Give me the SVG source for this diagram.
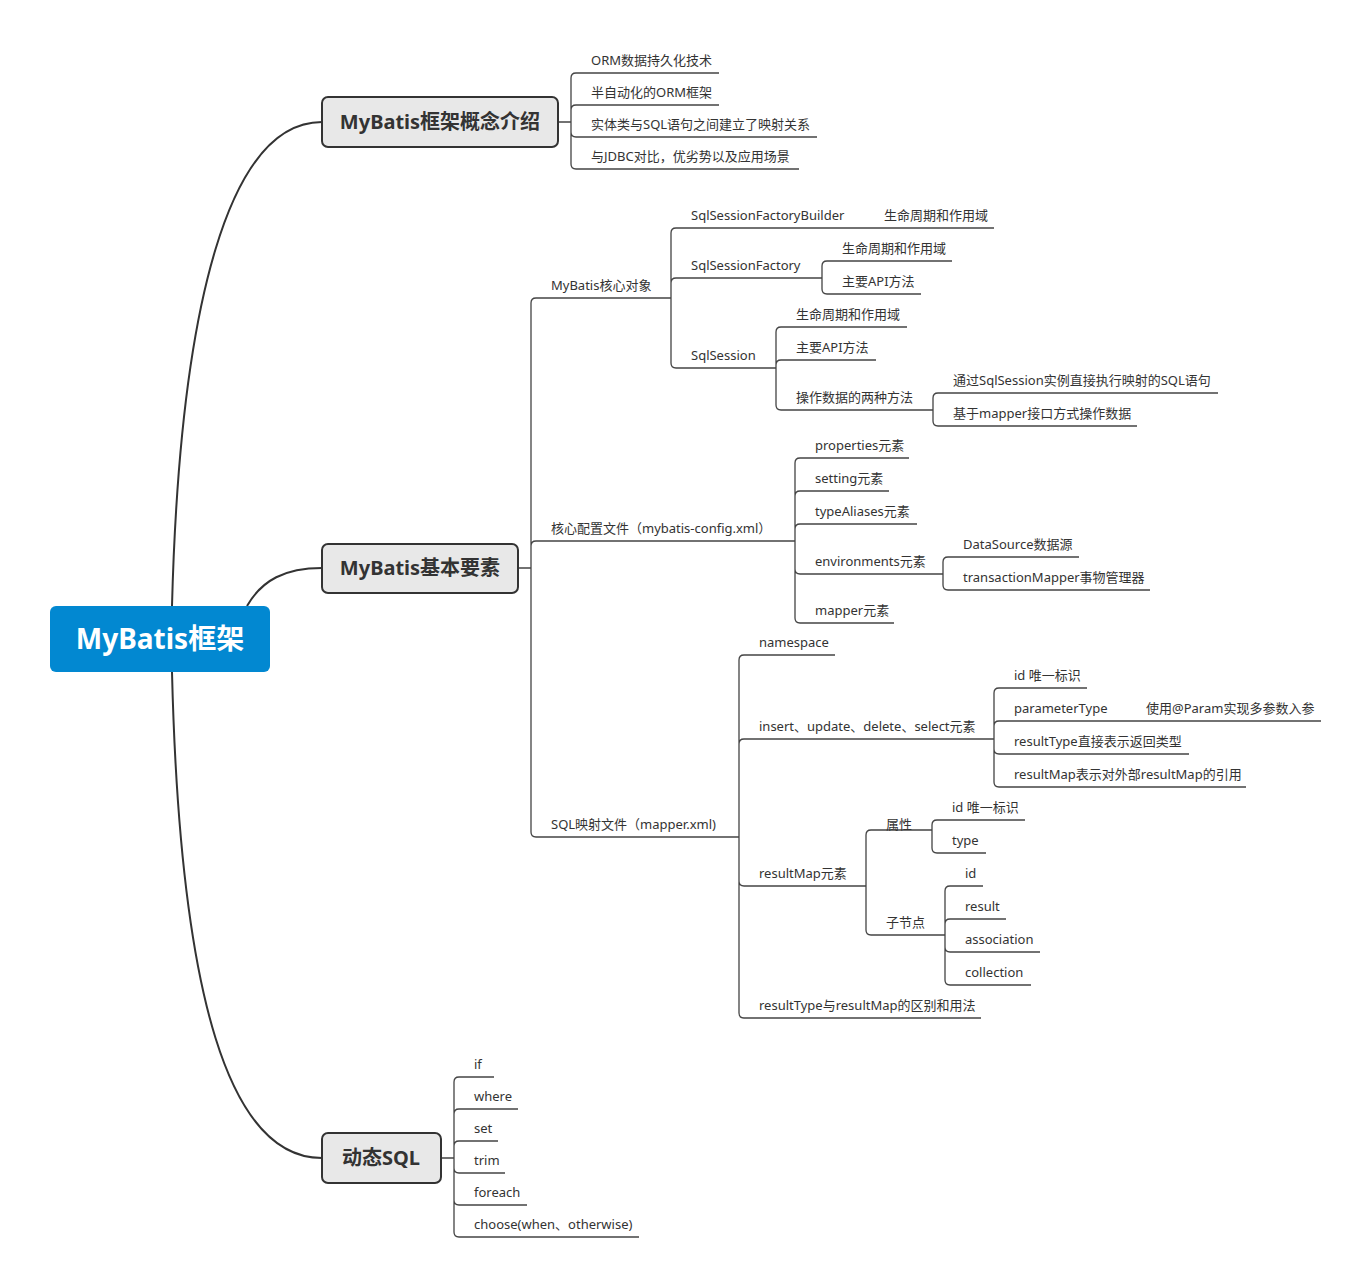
<svg xmlns="http://www.w3.org/2000/svg" width="1371" height="1288" viewBox="0 0 1371 1288">
<style>
.c{fill:none;stroke:#444;stroke-width:1.3}
.m{fill:none;stroke:#333;stroke-width:2}
.t{font-family:"Noto Sans","Noto Sans CJK SC",sans-serif;font-size:13px;fill:#333}
.b{fill:#e8e8e8;stroke:#333;stroke-width:2}
.bt{font-family:"Noto Sans","Noto Sans CJK SC",sans-serif;font-size:20px;font-weight:bold;fill:#333;text-anchor:middle}
</style>
<rect width="1371" height="1288" fill="#fff"/>
<g id="connectors">
<path class="m" d="M172,606 C180,300 230,122 322,122"/>
<path class="m" d="M247,606 C262,580 285,568 322,568"/>
<path class="m" d="M172,672 C180,1000 230,1158 322,1158"/>
<path class="c" d="M558,122 H571 M571,122 V78 Q571,73 576,73 H719 M571,122 V110 Q571,105 576,105 H719 M571,122 V132 Q571,137 576,137 H817 M571,122 V164 Q571,169 576,169 H799"/>
<path class="c" d="M518,568 H531 M531,568 V303 Q531,298 536,298 H670 M531,568 V546 Q531,541 536,541 H795 M531,568 V832 Q531,837 536,837 H738"/>
<path class="c" d="M670,298 H671 M671,298 V233 Q671,228 676,228 H994 M671,298 V283 Q671,278 676,278 H822 M671,298 V363 Q671,368 676,368 H776"/>
<path class="c" d="M822,278 V266 Q822,261 827,261 H952 M822,278 V289 Q822,294 827,294 H921"/>
<path class="c" d="M776,368 V332 Q776,327 781,327 H907 M776,368 V365 Q776,360 781,360 H876 M776,368 V405 Q776,410 781,410 H933"/>
<path class="c" d="M933,410 V398 Q933,393 938,393 H1218 M933,410 V421 Q933,426 938,426 H1137"/>
<path class="c" d="M795,541 V463 Q795,458 800,458 H909 M795,541 V496 Q795,491 800,491 H889 M795,541 V529 Q795,524 800,524 H917 M795,541 V569 Q795,574 800,574 H943 M795,541 V618 Q795,623 800,623 H894"/>
<path class="c" d="M943,574 V562 Q943,557 948,557 H1079 M943,574 V585 Q943,590 948,590 H1150"/>
<path class="c" d="M738,837 H739 M739,837 V660 Q739,655 744,655 H835 M739,837 V744 Q739,739 744,739 H993 M739,837 V881 Q739,886 744,886 H866 M739,837 V1013 Q739,1018 744,1018 H981"/>
<path class="c" d="M993,739 H994 M994,739 V693 Q994,688 999,688 H1087 M994,739 V726 Q994,721 999,721 H1321 M994,739 V749 Q994,754 999,754 H1189 M994,739 V782 Q994,787 999,787 H1246"/>
<path class="c" d="M866,886 V835 Q866,830 871,830 H932 M866,886 V930 Q866,935 871,935 H945"/>
<path class="c" d="M932,830 V825 Q932,820 937,820 H1025 M932,830 V848 Q932,853 937,853 H986"/>
<path class="c" d="M945,935 V891 Q945,886 950,886 H983 M945,935 V924 Q945,919 950,919 H1006 M945,935 V947 Q945,952 950,952 H1040 M945,935 V980 Q945,985 950,985 H1031"/>
<path class="c" d="M441,1158 H454 M454,1158 V1082 Q454,1077 459,1077 H494 M454,1158 V1114 Q454,1109 459,1109 H518 M454,1158 V1146 Q454,1141 459,1141 H498 M454,1158 V1168 Q454,1173 459,1173 H505 M454,1158 V1200 Q454,1205 459,1205 H527 M454,1158 V1232 Q454,1237 459,1237 H639"/>
</g>
<g id="root"><rect x="50" y="606" width="220" height="66" rx="6" fill="#0288d1"/><text x="160" y="649" font-family="Noto Sans,Noto Sans CJK SC,sans-serif" font-size="28" font-weight="bold" fill="#fff" text-anchor="middle">MyBatis框架</text></g>
<g id="concept"><rect class="b" x="322" y="97" width="236" height="50" rx="6"/><text class="bt" x="440" y="129">MyBatis框架概念介绍</text></g>
<g id="basic"><rect class="b" x="322" y="544" width="196" height="49" rx="6"/><text class="bt" x="420" y="575">MyBatis基本要素</text></g>
<g id="dynamic"><rect class="b" x="322" y="1133" width="119" height="50" rx="6"/><text class="bt" x="381" y="1165">动态SQL</text></g>
<g id="leaves">
<text class="t" x="591" y="65">ORM数据持久化技术</text>
<text class="t" x="591" y="97">半自动化的ORM框架</text>
<text class="t" x="591" y="129">实体类与SQL语句之间建立了映射关系</text>
<text class="t" x="591" y="161">与JDBC对比，优劣势以及应用场景</text>
<text class="t" x="551" y="290">MyBatis核心对象</text>
<text class="t" x="551" y="533">核心配置文件（mybatis-config.xml）</text>
<text class="t" x="551" y="829">SQL映射文件（mapper.xml)</text>
<text class="t" x="691" y="220">SqlSessionFactoryBuilder</text>
<text class="t" x="884" y="220">生命周期和作用域</text>
<text class="t" x="691" y="270">SqlSessionFactory</text>
<text class="t" x="842" y="253">生命周期和作用域</text>
<text class="t" x="842" y="286">主要API方法</text>
<text class="t" x="691" y="360">SqlSession</text>
<text class="t" x="796" y="319">生命周期和作用域</text>
<text class="t" x="796" y="352">主要API方法</text>
<text class="t" x="796" y="402">操作数据的两种方法</text>
<text class="t" x="953" y="385">通过SqlSession实例直接执行映射的SQL语句</text>
<text class="t" x="953" y="418">基于mapper接口方式操作数据</text>
<text class="t" x="815" y="450">properties元素</text>
<text class="t" x="815" y="483">setting元素</text>
<text class="t" x="815" y="516">typeAliases元素</text>
<text class="t" x="815" y="566">environments元素</text>
<text class="t" x="815" y="615">mapper元素</text>
<text class="t" x="963" y="549">DataSource数据源</text>
<text class="t" x="963" y="582">transactionMapper事物管理器</text>
<text class="t" x="759" y="647">namespace</text>
<text class="t" x="759" y="731">insert、update、delete、select元素</text>
<text class="t" x="759" y="878">resultMap元素</text>
<text class="t" x="759" y="1010">resultType与resultMap的区别和用法</text>
<text class="t" x="1014" y="680">id 唯一标识</text>
<text class="t" x="1014" y="713">parameterType</text>
<text class="t" x="1146" y="713">使用@Param实现多参数入参</text>
<text class="t" x="1014" y="746">resultType直接表示返回类型</text>
<text class="t" x="1014" y="779">resultMap表示对外部resultMap的引用</text>
<text class="t" x="886" y="829">属性</text>
<text class="t" x="886" y="927">子节点</text>
<text class="t" x="952" y="812">id 唯一标识</text>
<text class="t" x="952" y="845">type</text>
<text class="t" x="965" y="878">id</text>
<text class="t" x="965" y="911">result</text>
<text class="t" x="965" y="944">association</text>
<text class="t" x="965" y="977">collection</text>
<text class="t" x="474" y="1069">if</text>
<text class="t" x="474" y="1101">where</text>
<text class="t" x="474" y="1133">set</text>
<text class="t" x="474" y="1165">trim</text>
<text class="t" x="474" y="1197">foreach</text>
<text class="t" x="474" y="1229">choose(when、otherwise)</text>
</g>
</svg>
